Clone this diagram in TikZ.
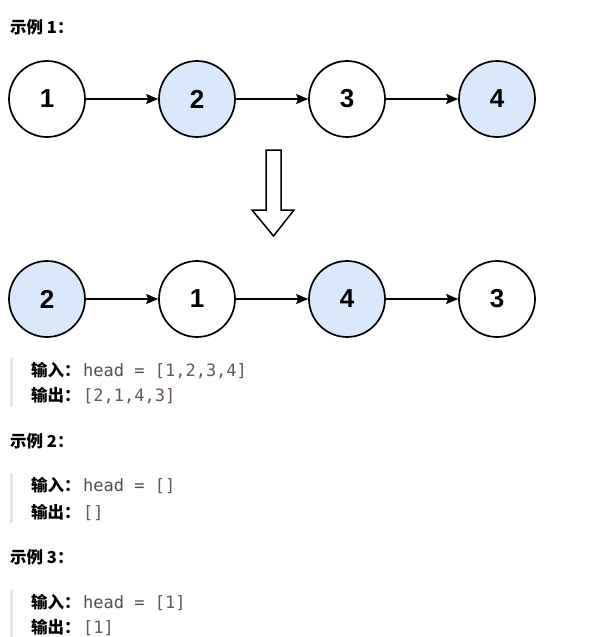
\documentclass[tikz,border=0pt]{standalone}
\usepackage{fontspec}
\setmainfont{Liberation Sans}
\setmonofont{DejaVu Sans Mono}
\newfontfamily\cjk{Noto Sans CJK SC}
\usepackage{tikz}
\usetikzlibrary{arrows.meta}
\definecolor{nodeblue}{HTML}{DAE8FC}
\definecolor{codegray}{HTML}{505050}
\definecolor{valgray}{HTML}{665A52}
\definecolor{bargray}{HTML}{E6E6E6}

\tikzset{
  listnode/.style={circle, draw, line width=1.7pt, minimum size=76pt, inner sep=0pt,
    font=\fontsize{26}{26}\selectfont\bfseries},
  bluenode/.style={listnode, fill=nodeblue},
  link/.style={-{Stealth[length=12pt, width=10pt, inset=2pt]}, line width=1.7pt},
  heading/.style={anchor=base west, inner sep=0pt, font=\cjk\bfseries\fontsize{16.5}{16.5}\selectfont},
  codetext/.style={anchor=base west, inner sep=0pt, font=\ttfamily\fontsize{17}{17}\selectfont}
}

\begin{document}
\begin{tikzpicture}[x=1pt, y=-1pt]
    \useasboundingbox[fill=white] (0, 0) rectangle (594, 637);

    % example 1
    \node[heading] (title1) at (10, 33) {示例 1：};
    \node[listnode] (a1) at (47, 99) {1};
    \node[bluenode] (a2) at (197, 99) {2};
    \node[listnode] (a3) at (347, 99) {3};
    \node[bluenode] (a4) at (497, 99) {4};
    \draw[link] (a1) -- (a2);
    \draw[link] (a2) -- (a3);
    \draw[link] (a3) -- (a4);

    \draw[line width=1.5pt, line join=miter] (266, 150) -- (281, 150) -- (281, 210) -- (294, 210)
      -- (273.5, 236) -- (252, 210) -- (266, 210) -- cycle;

    \node[bluenode] (b1) at (47, 299) {2};
    \node[listnode] (b2) at (197, 299) {1};
    \node[bluenode] (b3) at (347, 299) {4};
    \node[listnode] (b4) at (497, 299) {3};
    \draw[link] (b1) -- (b2);
    \draw[link] (b2) -- (b3);
    \draw[link] (b3) -- (b4);

    \fill[bargray] (10, 358) rectangle (13, 407);
    \node[heading] (in1) at (31, 376) {输入：};
    \node[codetext] (inval1) at (83, 376) {\textcolor{codegray}{head = }\textcolor{valgray}{[1,2,3,4]}};
    \node[heading] (out1) at (31, 401) {输出：};
    \node[codetext] (outval1) at (83, 401) {\textcolor{valgray}{[2,1,4,3]}};

    % example 2
    \node[heading] (title2) at (10, 447) {示例 2：};
    \fill[bargray] (10, 473) rectangle (13, 523);
    \node[heading] (in2) at (31, 491) {输入：};
    \node[codetext] (inval2) at (83, 491) {\textcolor{codegray}{head = }\textcolor{valgray}{[]}};
    \node[heading] (out2) at (31, 518) {输出：};
    \node[codetext] (outval2) at (83, 518) {\textcolor{valgray}{[]}};

    % example 3
    \node[heading] (title3) at (10, 563) {示例 3：};
    \fill[bargray] (10, 590) rectangle (13, 637);
    \node[heading] (in3) at (31, 608) {输入：};
    \node[codetext] (inval3) at (83, 608) {\textcolor{codegray}{head = }\textcolor{valgray}{[1]}};
    \node[heading] (out3) at (31, 633) {输出：};
    \node[codetext] (outval3) at (83, 633) {\textcolor{valgray}{[1]}};
\end{tikzpicture}
\end{document}
